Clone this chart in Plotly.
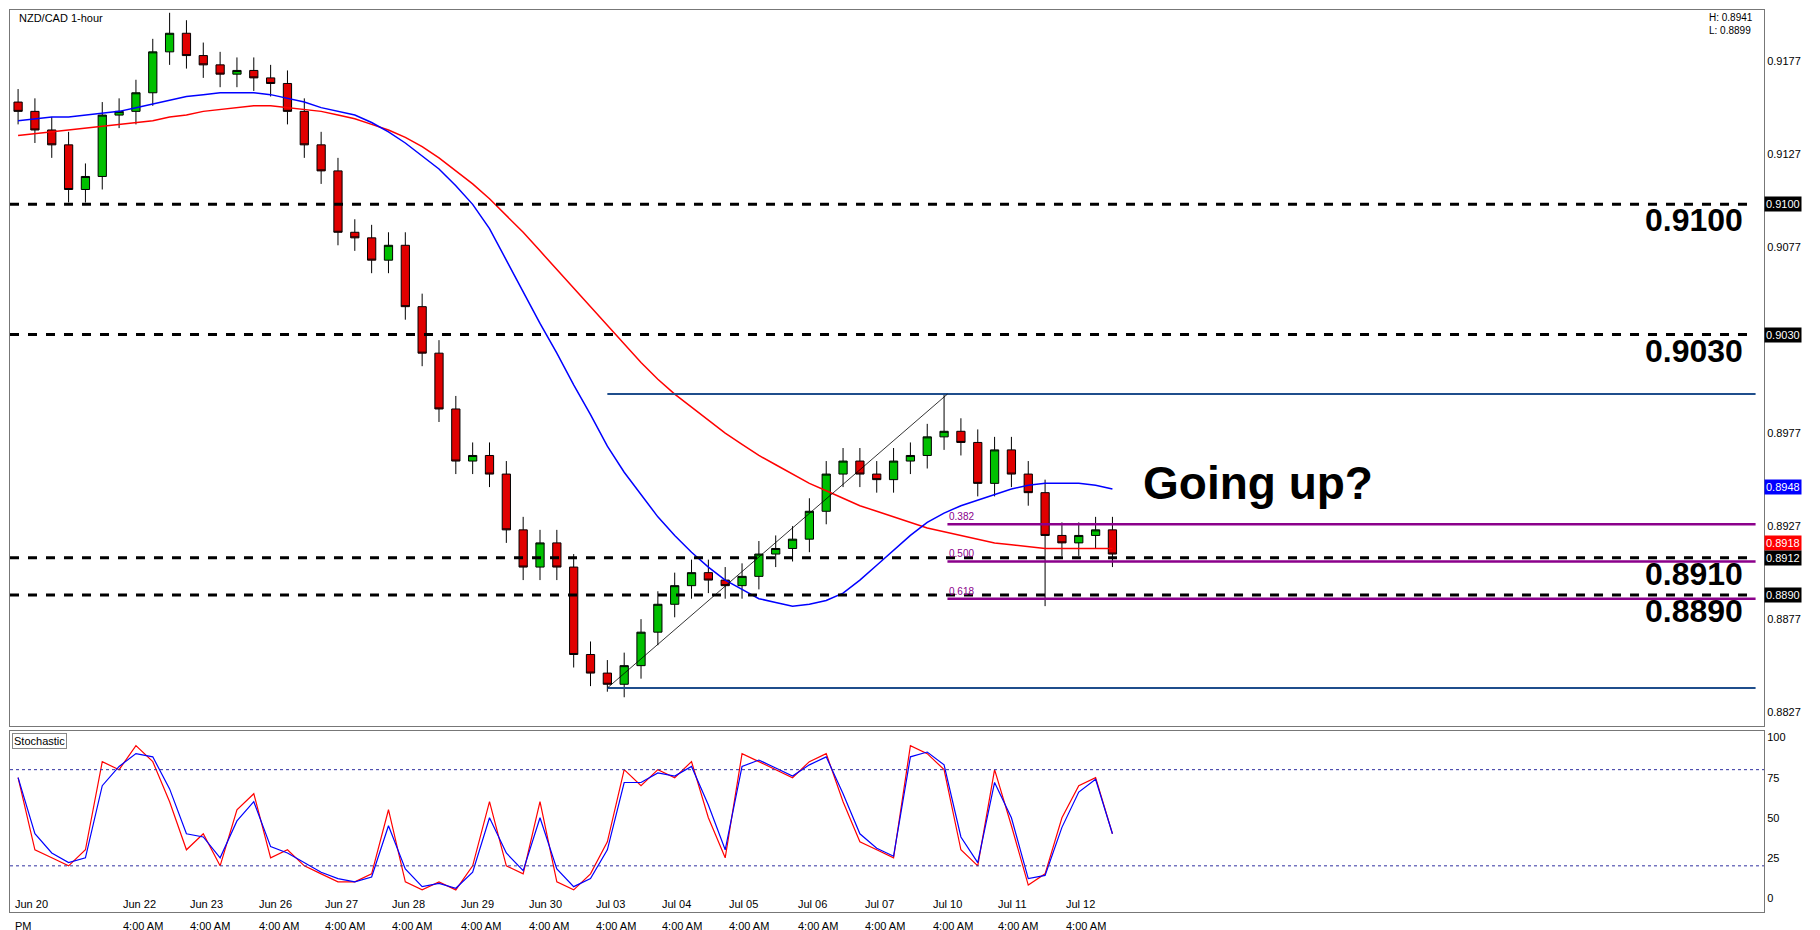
import plotly.graph_objects as go
from plotly.subplots import make_subplots

# 6-hour candles
closes = [0.9150, 0.9140, 0.9132, 0.9108, 0.9115, 0.9148, 0.9150, 0.9160, 0.9182, 0.9192,
          0.9180, 0.9175, 0.9170, 0.9172, 0.9168, 0.9165, 0.9150, 0.9132, 0.9118, 0.9085,
          0.9082, 0.9070, 0.9078, 0.9045, 0.9020, 0.8990, 0.8962, 0.8965, 0.8955, 0.8925,
          0.8905, 0.8918, 0.8905, 0.8858, 0.8848, 0.8842, 0.8852, 0.8870, 0.8885, 0.8895,
          0.8902, 0.8898, 0.8895, 0.8900, 0.8912, 0.8915, 0.8920, 0.8935, 0.8955, 0.8962,
          0.8955, 0.8952, 0.8962, 0.8965, 0.8975, 0.8978, 0.8972, 0.8950, 0.8968, 0.8955,
          0.8945, 0.8922, 0.8918, 0.8922, 0.8925, 0.8912]
first_open = 0.9155
wick = 0.0007
spike_lows = {61: 0.8884, 35: 0.8838}
spike_highs = {9: 0.9203, 55: 0.8998}

ma_fast = [0.9145, 0.9146, 0.9147, 0.9147, 0.9148, 0.9149, 0.9150, 0.9152, 0.9154, 0.9156,
           0.9158, 0.9159, 0.9160, 0.9160, 0.9160, 0.9159, 0.9157, 0.9155, 0.9152, 0.9150,
           0.9148, 0.9144, 0.9139, 0.9133, 0.9126, 0.9119, 0.9110, 0.9100, 0.9087, 0.9070,
           0.9053, 0.9036, 0.9020, 0.9003, 0.8987, 0.8970, 0.8956, 0.8944, 0.8932, 0.8922,
           0.8913, 0.8905, 0.8898, 0.8893, 0.8888, 0.8886, 0.8884, 0.8885, 0.8887, 0.8891,
           0.8898, 0.8906, 0.8914, 0.8922, 0.8929, 0.8934, 0.8938, 0.8941, 0.8944, 0.8947,
           0.8949, 0.8950, 0.8950, 0.8950, 0.8949, 0.8947]
ma_slow = [0.9137, 0.9138, 0.9139, 0.9140, 0.9141, 0.9142, 0.9143, 0.9144, 0.9145, 0.9147,
           0.9148, 0.9150, 0.9151, 0.9152, 0.9153, 0.9153, 0.9152, 0.9151, 0.9150, 0.9148,
           0.9146, 0.9143, 0.9140, 0.9136, 0.9131, 0.9125, 0.9118, 0.9111, 0.9103, 0.9094,
           0.9085, 0.9075, 0.9065, 0.9055, 0.9045, 0.9035, 0.9025, 0.9015, 0.9006, 0.8998,
           0.8991, 0.8984, 0.8977, 0.8971, 0.8965, 0.8960, 0.8955, 0.8950, 0.8946, 0.8942,
           0.8938, 0.8935, 0.8932, 0.8929, 0.8926, 0.8924, 0.8922, 0.8920, 0.8918, 0.8917,
           0.8916, 0.8915, 0.8915, 0.8915, 0.8915, 0.8915]

stoch_k = [75, 30, 25, 20, 30, 85, 80, 95, 85, 60, 30, 40, 20, 55, 65, 25, 30, 20, 15, 10,
           10, 15, 55, 10, 5, 10, 5, 20, 60, 20, 15, 60, 10, 5, 15, 35, 80, 70, 80, 75,
           85, 50, 25, 90, 85, 80, 75, 85, 90, 60, 35, 30, 25, 95, 90, 80, 30, 20, 80, 45,
           8, 15, 50, 70, 75, 40]
stoch_d = [75, 40, 28, 22, 25, 70, 82, 90, 88, 68, 40, 38, 25, 48, 60, 32, 28, 22, 16, 12,
           10, 13, 45, 18, 7, 9, 6, 16, 50, 28, 17, 50, 18, 7, 12, 30, 72, 72, 78, 76,
           82, 58, 30, 82, 86, 81, 76, 83, 88, 65, 40, 31, 26, 88, 91, 83, 38, 22, 72, 50,
           12, 14, 44, 66, 74, 40]

levels = [0.9100, 0.9030, 0.8910, 0.8890]
level_labels = ["0.9100", "0.9030", "0.8910", "0.8890"]
range_high, range_low = 0.8998, 0.8840
fib_levels = [0.8928, 0.8908, 0.8888]
fib_labels = ["0.382", "0.500", "0.618"]
price_ticks = [0.9177, 0.9127, 0.9077, 0.8977, 0.8927, 0.8877, 0.8827]
price_boxes = [("0.9100", 0.9100, "black"), ("0.9030", 0.9030, "black"), ("0.8948", 0.8948, "#0000ff"),
               ("0.8918", 0.8918, "#ff0000"), ("0.8912", 0.8910, "black"), ("0.8890", 0.8890, "black")]
date_labels = ["Jun 20", "Jun 22", "Jun 23", "Jun 26", "Jun 27", "Jun 28", "Jun 29", "Jun 30",
               "Jul 03", "Jul 04", "Jul 05", "Jul 06", "Jul 07", "Jul 10", "Jul 11", "Jul 12"]
date_pos = [-0.3, 6.1, 10.1, 14.2, 18.1, 22.1, 26.2, 30.2, 34.2, 38.1, 42.1, 46.2, 50.2, 54.2, 58.1, 62.1]

n = len(closes)
idx = list(range(n))
opens = [first_open] + closes[:-1]
highs = [spike_highs.get(i, max(o, c) + wick) for i, (o, c) in enumerate(zip(opens, closes))]
lows = [spike_lows.get(i, min(o, c) - wick) for i, (o, c) in enumerate(zip(opens, closes))]

FONT = "Liberation Sans"
XR = [-0.48, 103.7]

fig = make_subplots(rows=2, cols=1, shared_xaxes=True, vertical_spacing=0.005,
                    row_heights=[0.8, 0.2])
fig.add_trace(go.Candlestick(x=idx, open=opens, high=highs, low=lows, close=closes,
                             increasing=dict(line=dict(color="black", width=1), fillcolor="#00c000"),
                             decreasing=dict(line=dict(color="black", width=1), fillcolor="#e00000"),
                             whiskerwidth=0, showlegend=False), row=1, col=1)
fig.add_trace(go.Scatter(x=idx, y=ma_slow, mode="lines", line=dict(color="#ff0000", width=1.5),
                         showlegend=False), row=1, col=1)
fig.add_trace(go.Scatter(x=idx, y=ma_fast, mode="lines", line=dict(color="#0000ff", width=1.5),
                         showlegend=False), row=1, col=1)
fig.add_trace(go.Scatter(x=idx, y=stoch_k, mode="lines", line=dict(color="#ff0000", width=1.2),
                         showlegend=False), row=2, col=1)
fig.add_trace(go.Scatter(x=idx, y=stoch_d, mode="lines", line=dict(color="#0000ff", width=1.2),
                         showlegend=False), row=2, col=1)

for lv in levels:
    fig.add_shape(type="line", xref="x domain", x0=0, x1=0.995, yref="y", y0=lv, y1=lv,
                  line=dict(color="black", width=3, dash="dash"))
for lv in [range_high, range_low]:
    fig.add_shape(type="line", xref="x", x0=35, x1=103.2, yref="y", y0=lv, y1=lv,
                  line=dict(color="#1f4e8c", width=2))
for lv, lab in zip(fib_levels, fib_labels):
    fig.add_shape(type="line", xref="x", x0=55.2, x1=103.2, yref="y", y0=lv, y1=lv,
                  line=dict(color="#8b008b", width=2.5))
    fig.add_annotation(x=55.2, y=lv, text=lab, showarrow=False, xanchor="left", yanchor="bottom",
                       font=dict(family=FONT, size=10, color="#8b008b"))
fig.add_shape(type="line", xref="x", yref="y", x0=35, y0=range_low, x1=55.2, y1=range_high,
              line=dict(color="black", width=0.8))
for lv in [80, 20]:
    fig.add_shape(type="line", xref="x2 domain", x0=0, x1=1, yref="y2", y0=lv, y1=lv,
                  line=dict(color="#3030a0", width=1, dash="dot"))

for lab, lv in zip(level_labels, levels):
    fig.add_annotation(x=102.6, y=lv, text="<b>%s</b>" % lab, showarrow=False, xanchor="right",
                       yanchor="top", yshift=4, font=dict(family=FONT, size=32, color="black"))
fig.add_annotation(x=66.7, y=0.8950, text="<b>Going up?</b>", showarrow=False, xanchor="left",
                   yanchor="middle", font=dict(family=FONT, size=46, color="black"))

for lab, lv, col in price_boxes:
    fig.add_annotation(x=1, xref="paper", y=lv, yref="y", text=lab, showarrow=False, xanchor="left",
                       bgcolor=col, font=dict(family=FONT, size=11, color="white"), borderpad=1)
fig.add_annotation(x=0.004, xref="paper", y=1, yref="paper", text="NZD/CAD 1-hour", showarrow=False,
                   xanchor="left", yanchor="top", font=dict(family=FONT, size=11, color="black"))
fig.add_annotation(x=0.995, xref="paper", y=1, yref="paper", text="H: 0.8941<br>L: 0.8899",
                   showarrow=False, xanchor="right", yanchor="top", align="left",
                   font=dict(family=FONT, size=10, color="black"))
fig.add_annotation(x=0.001, xref="paper", y=0.218, yref="paper", text="Stochastic", showarrow=False,
                   xanchor="left", yanchor="top", bordercolor="#888", borderwidth=1, bgcolor="white",
                   font=dict(family=FONT, size=11, color="black"))
for lab, p in zip(date_labels, date_pos):
    fig.add_annotation(x=p, xref="x2", y=0.024, yref="paper", text=lab, showarrow=False,
                       xanchor="left", yanchor="bottom", font=dict(family=FONT, size=11, color="black"))
    fig.add_annotation(x=p, xref="x2", y=0.0, yref="paper",
                       text="PM" if lab == "Jun 20" else "4:00 AM", showarrow=False,
                       xanchor="left", yanchor="bottom", font=dict(family=FONT, size=11, color="black"))

axis_style = dict(showgrid=False, zeroline=False, showline=True, linecolor="#777", mirror=True,
                  ticks="", tickfont=dict(family=FONT, size=11, color="black"))
fig.update_xaxes(range=XR, showticklabels=False, rangeslider_visible=False, **axis_style)
fig.update_yaxes(side="right", **axis_style)
fig.update_yaxes(range=[0.88195, 0.92045], tickvals=price_ticks, tickformat=".4f", row=1, col=1)
fig.update_yaxes(range=[-8.7, 104.3], tickvals=[0, 25, 50, 75, 100], row=2, col=1)
fig.update_layout(width=1820, height=930, paper_bgcolor="white", plot_bgcolor="white",
                  margin=dict(l=2, r=64, t=2, b=4))
fig.layout.yaxis.domain = [0.225, 1]
fig.layout.yaxis2.domain = [0.024, 0.22]
fig.write_html("out.html")
